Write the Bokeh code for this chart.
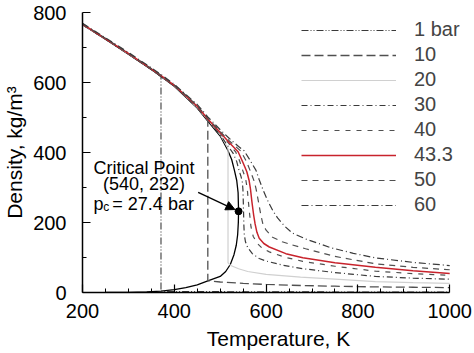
from bokeh.plotting import figure
from bokeh.models import Legend, LegendItem, Arrow, NormalHead, Range1d, FixedTicker
from bokeh.core.properties import value
from bokeh.embed import file_html
from bokeh.resources import INLINE

FONT = "Liberation Sans"

# ---------------- data ----------------
sat_liq_T = [200, 250, 300, 350, 371, 400, 450, 473, 500, 516, 525, 531, 536, 539, 540]
sat_liq_rho = [765, 724, 681, 637, 617, 589, 527, 490, 447, 408, 380, 349, 320, 285, 232]
sat_vap_T = [540, 539.5, 538, 535, 530, 522, 512, 500, 473, 450, 425, 400, 371, 340, 300, 250]
sat_vap_rho = [232, 200, 165, 135, 108, 80, 60, 46, 33, 22, 14, 8, 4, 1.5, 0.4, 0.05]

p1_T = [200, 250, 300, 350, 371, 371, 400, 500, 600, 700, 800, 900, 1000]
p1_rho = [765, 724, 681, 637, 617, 3.2, 3.0, 2.4, 2.0, 1.7, 1.5, 1.3, 1.2]

p10_T = [200, 250, 300, 350, 371, 400, 450, 473, 473, 500, 550, 600, 675, 750, 838, 920, 1000]
p10_rho = [766, 725, 682, 638, 618, 590, 528, 491, 34, 30, 26, 23, 20, 18, 16, 15, 14]

p20_T = [200, 250, 300, 350, 371, 400, 450, 473, 500, 517, 517, 523, 540, 560, 600, 675, 750, 838, 920, 1000]
p20_rho = [766, 725, 682, 639, 619, 591, 529, 493, 451, 412, 85, 77, 68, 60, 52, 44, 38, 31, 28, 26]

p30_T = [200, 300, 371, 400, 450, 473, 500, 515, 528, 536, 541, 545, 548, 549.5, 550.5, 551.5, 552.5,
         555, 560, 570, 585, 600, 636, 680, 750, 838, 920, 1000]
p30_rho = [766, 682, 618, 590, 529, 493, 451, 422, 398, 374, 349, 333, 318, 295, 250, 195, 165,
           145, 128, 111, 97, 90, 78, 68, 57, 46, 41, 38]

p40_T = [200, 300, 371, 400, 450, 473, 500, 518, 534, 542, 549, 553, 556, 559, 561, 564, 567, 572,
         581, 592, 607, 640, 680, 750, 838, 920, 1000]
p40_rho = [767, 683, 619, 591, 531, 495, 455, 427, 401, 377, 349, 334, 320, 295, 265, 225, 188, 160,
           140, 126, 116, 101, 89, 75, 61, 54, 49]

p43_T = [200, 300, 371, 400, 450, 473, 500, 520, 539, 550, 558, 563, 566, 569, 573, 576, 580, 585,
         595, 607, 643, 680, 750, 838, 920, 1000]
p43_rho = [767, 683, 620, 592, 532, 496, 457, 428, 402, 370, 345, 320, 295, 260, 220, 196, 172, 155,
           140, 130, 111, 99, 85, 72, 62, 54]

p50_T = [200, 300, 371, 400, 450, 473, 500, 520, 545, 557, 565, 570, 574, 578, 583, 588, 593, 600,
         614, 635, 657, 686, 750, 838, 920, 1000]
p50_rho = [768, 684, 621, 593, 534, 498, 460, 433, 404, 375, 349, 332, 318, 297, 262, 225, 195, 178,
           158, 145, 136, 125, 103, 82, 72, 65]

p60_T = [200, 300, 371, 400, 450, 473, 500, 520, 540, 552, 565, 578, 585, 594, 605, 615, 625, 640,
         657, 686, 741, 790, 838, 920, 1000]
p60_rho = [769, 686, 623, 595, 537, 502, 465, 440, 417, 405, 378, 349, 322, 291, 258, 233, 213, 190,
           170, 153, 128, 112, 99, 86, 77]

legend_labels = ["1 bar", "10", "20", "30", "40", "43.3", "50", "60"]

crit_T = [540]
crit_rho = [232]
crit_lines = ["Critical Point", "(540, 232)"]
crit_pc_text = "= 27.4 bar"

x_major = [200, 400, 600, 800, 1000]
y_major = [0, 200, 400, 600, 800]

# ---------------- figure ----------------
# the frame reaches the right edge so the legend text is not clipped;
# the x axis itself is bounded to 200..1000
p = figure(width=474, height=353, output_backend="svg", toolbar_location=None,
           x_range=Range1d(200, 1054), y_range=Range1d(0, 800),
           min_border_left=81, min_border_right=0, min_border_top=12, min_border_bottom=61)
p.outline_line_color = None
p.grid.visible = False
p.background_fill_color = "white"
p.border_fill_color = "white"

x_minor = [v for v in range(200, 1001, 50) if v not in x_major]
y_minor = [v for v in range(0, 801, 100) if v not in y_major]
p.xaxis.ticker = FixedTicker(ticks=x_major, minor_ticks=x_minor)
p.yaxis.ticker = FixedTicker(ticks=y_major, minor_ticks=y_minor)
p.xaxis.bounds = (200, 1000)

for ax in (p.xaxis[0], p.yaxis[0]):
    ax.axis_line_color = "black"
    ax.axis_line_width = 1.5
    ax.major_tick_in = 8
    ax.major_tick_out = 0
    ax.minor_tick_in = 4
    ax.minor_tick_out = 0
    ax.major_tick_line_color = "black"
    ax.minor_tick_line_color = "black"
    ax.major_tick_line_width = 1.2
    ax.minor_tick_line_width = 1
    ax.major_label_text_font = FONT
    ax.major_label_text_font_size = "20px"
    ax.major_label_text_color = "black"
    ax.axis_label_text_font = FONT
    ax.axis_label_text_font_size = "21px"
    ax.axis_label_text_font_style = "normal"
    ax.axis_label_text_color = "black"

p.xaxis.axis_label = "Temperature, K"
p.yaxis.axis_label = "Density, kg/m³"
p.xaxis.major_label_standoff = 11
p.yaxis.major_label_standoff = 16
p.xaxis.axis_label_standoff = 6
p.yaxis.axis_label_standoff = 4

dark = "#3a3a3a"
grey = "#505050"

# saturation dome
p.line(sat_liq_T, sat_liq_rho, line_color="black", line_width=1.3)
p.line(sat_vap_T, sat_vap_rho, line_color="black", line_width=1.3)

r1 = p.line(p1_T, p1_rho, line_color=dark, line_width=1.1, line_dash="7 2 1 2 1 2")
r10 = p.line(p10_T, p10_rho, line_color=grey, line_width=1.3, line_dash="9 4")
r20 = p.line(p20_T, p20_rho, line_color="#d0d0d0", line_width=1.2)
r30 = p.line(p30_T, p30_rho, line_color=dark, line_width=1.2, line_dash="6 3 1 3")
r40 = p.line(p40_T, p40_rho, line_color=grey, line_width=1.2, line_dash="5 6")
r43 = p.line(p43_T, p43_rho, line_color="#c8232c", line_width=1.5)
r50 = p.line(p50_T, p50_rho, line_color=grey, line_width=1.2, line_dash="6 5")
r60 = p.line(p60_T, p60_rho, line_color=dark, line_width=1.2, line_dash="7 3 1 3")

renderers = [r1, r10, r20, r30, r40, r43, r50, r60]
legend = Legend(items=[LegendItem(label=lab, renderers=[r]) for lab, r in zip(legend_labels, renderers)],
                location=(219, 76), border_line_color=None, background_fill_alpha=0,
                padding=0, margin=0, spacing=2, glyph_width=95, glyph_height=20,
                label_standoff=18, label_text_font=FONT, label_text_font_size="20px",
                label_height=20)
p.add_layout(legend, "center")

# critical point
p.scatter(crit_T, crit_rho, size=7, color="black")
p.add_layout(Arrow(end=NormalHead(size=9, fill_color="black", line_color="black"),
                   x_start=452, y_start=286, x_end=crit_T[0] - 8, y_end=crit_rho[0] + 5,
                   line_color="black", line_width=1.3))

# annotation text
p.text(x=[334, 334], y=[357, 311], text=crit_lines, text_font=value(FONT), text_font_size="18px",
       text_align="center", text_baseline="middle", text_color="black")
p.text(x=[224], y=[254], text=["p"], text_font=value(FONT), text_font_size="18px",
       text_align="left", text_baseline="middle", text_color="black")
p.text(x=[245], y=[244], text=["c"], text_font=value(FONT), text_font_size="12px",
       text_align="left", text_baseline="middle", text_color="black")
p.text(x=[265], y=[254], text=[crit_pc_text], text_font=value(FONT), text_font_size="18px",
       text_align="left", text_baseline="middle", text_color="black")

open("out.html", "w").write(file_html(p, INLINE))
